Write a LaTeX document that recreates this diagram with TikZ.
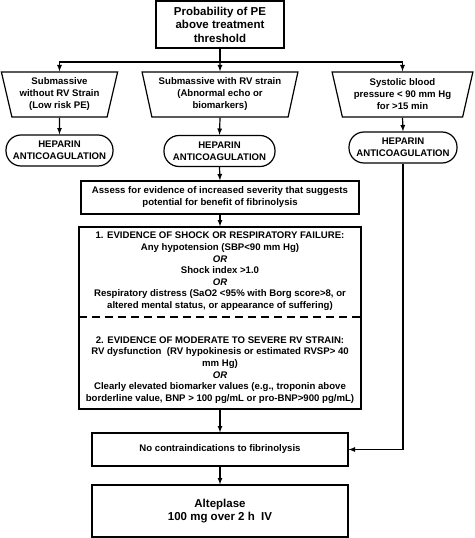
\documentclass[tikz,border=0pt]{standalone}
\usepackage{fontspec}
\setmainfont{Liberation Sans}
\usetikzlibrary{arrows,shapes.geometric}

\begin{document}
\begin{tikzpicture}[>=latex, x=1pt, y=-1pt, line width=1.2pt,
	every node/.style={font=\bfseries\fontsize{9.6}{12}\selectfont, align=center, inner sep=0pt},
	bigbox/.style={draw, minimum width=#1, font=\bfseries\fontsize{11.5}{13.6}\selectfont},
	funnel/.style={draw, trapezium, shape border rotate=180, trapezium angle=75, trapezium stretches=true, minimum width=#1, minimum height=45pt},
	pill/.style={draw, rounded corners=15pt, minimum width=#1, minimum height=31pt},
	box/.style={draw, minimum width=#1, minimum height=33pt},
	crit/.style={font=\bfseries\fontsize{9.6}{11.6}\selectfont}]
		\useasboundingbox (0,0) rectangle (474,538);
		%Start
		\node [bigbox=128pt, minimum height=47pt] (prob) at (220,24.5) {Probability of PE\\above treatment\\threshold};
		%Risk classes
		\node [funnel=117pt] (subL) at (59.5,94.5) {Submassive\\without RV Strain\\(Low risk PE)};
		\node [funnel=156pt] (subM) at (220,94.5) {Submassive with RV strain\\(Abnormal echo or\\biomarkers)};
		\node [funnel=141pt] (sbpR) at (402.5,94.5) {Systolic blood\\pressure < 90 mm Hg\\for >15 min};
		%Heparin
		\node [pill=107pt] (hepL) at (59.5,150.5) {HEPARIN\\ANTICOAGULATION};
		\node [pill=111pt] (hepM) at (219.5,151) {HEPARIN\\ANTICOAGULATION};
		\node [pill=108pt] (hepR) at (403,147.5) {HEPARIN\\ANTICOAGULATION};
		%Severity
		\node [box=278pt] (assess) at (220,197.5) {Assess for evidence of increased severity that suggests\\potential for benefit of fibrinolysis};
		\node [draw, minimum width=282pt, minimum height=182pt] (evid) at (220,318) {};
		\node [crit] (shock) at (220,271.3) {1. EVIDENCE OF SHOCK OR RESPIRATORY FAILURE:\\Any hypotension (SBP<90 mm Hg)\\\textit{OR}\\Shock index >1.0\\\textit{OR}\\Respiratory distress (SaO2 <95\% with Borg score>8, or\\altered mental status, or appearance of suffering)};
		\node [crit] (strain) at (220,370) {2. EVIDENCE OF MODERATE TO SEVERE RV STRAIN:\\RV dysfunction~ (RV hypokinesis or estimated RVSP> 40\\mm Hg)\\\textit{OR}\\Clearly elevated biomarker values (e.g., troponin above\\borderline value, BNP > 100 pg/mL or pro-BNP>900 pg/mL)};
		\coordinate (sepL) at (79,317);
		\coordinate (sepR) at (361,317);
		\draw [dash pattern=on 8pt off 5pt] (sepL) -- (sepR);
		%Treatment
		\node [box=256pt] (nocontra) at (220,449.5) {No contraindications to fibrinolysis};
		\node [bigbox=256pt, minimum height=52pt] (alte) at (220,511) {Alteplase\\100 mg over 2 h~ IV};
		%Arrows
		\coordinate (fork) at (220,62);
		\draw (prob.south) -- (fork);
		\draw [->] (fork) -- (subM.north);
		\draw [->] (fork) -| (subL.north);
		\draw [->] (fork) -| (sbpR.north);
		\draw [->] (subL.south) -- (hepL.north);
		\draw [->] (subM.south) -- (hepM.north);
		\draw [->] (sbpR.south) -- (hepR.north);
		\draw [->] (hepM.south) -- (assess.north);
		\draw [->] (assess.south) -- (evid.north);
		\draw [->] (evid.south) -- (nocontra.north);
		\draw [->] (hepR.south) |- (nocontra.east);
		\draw [->] (nocontra.south) -- (alte.north);
	\end{tikzpicture}
\end{document}
